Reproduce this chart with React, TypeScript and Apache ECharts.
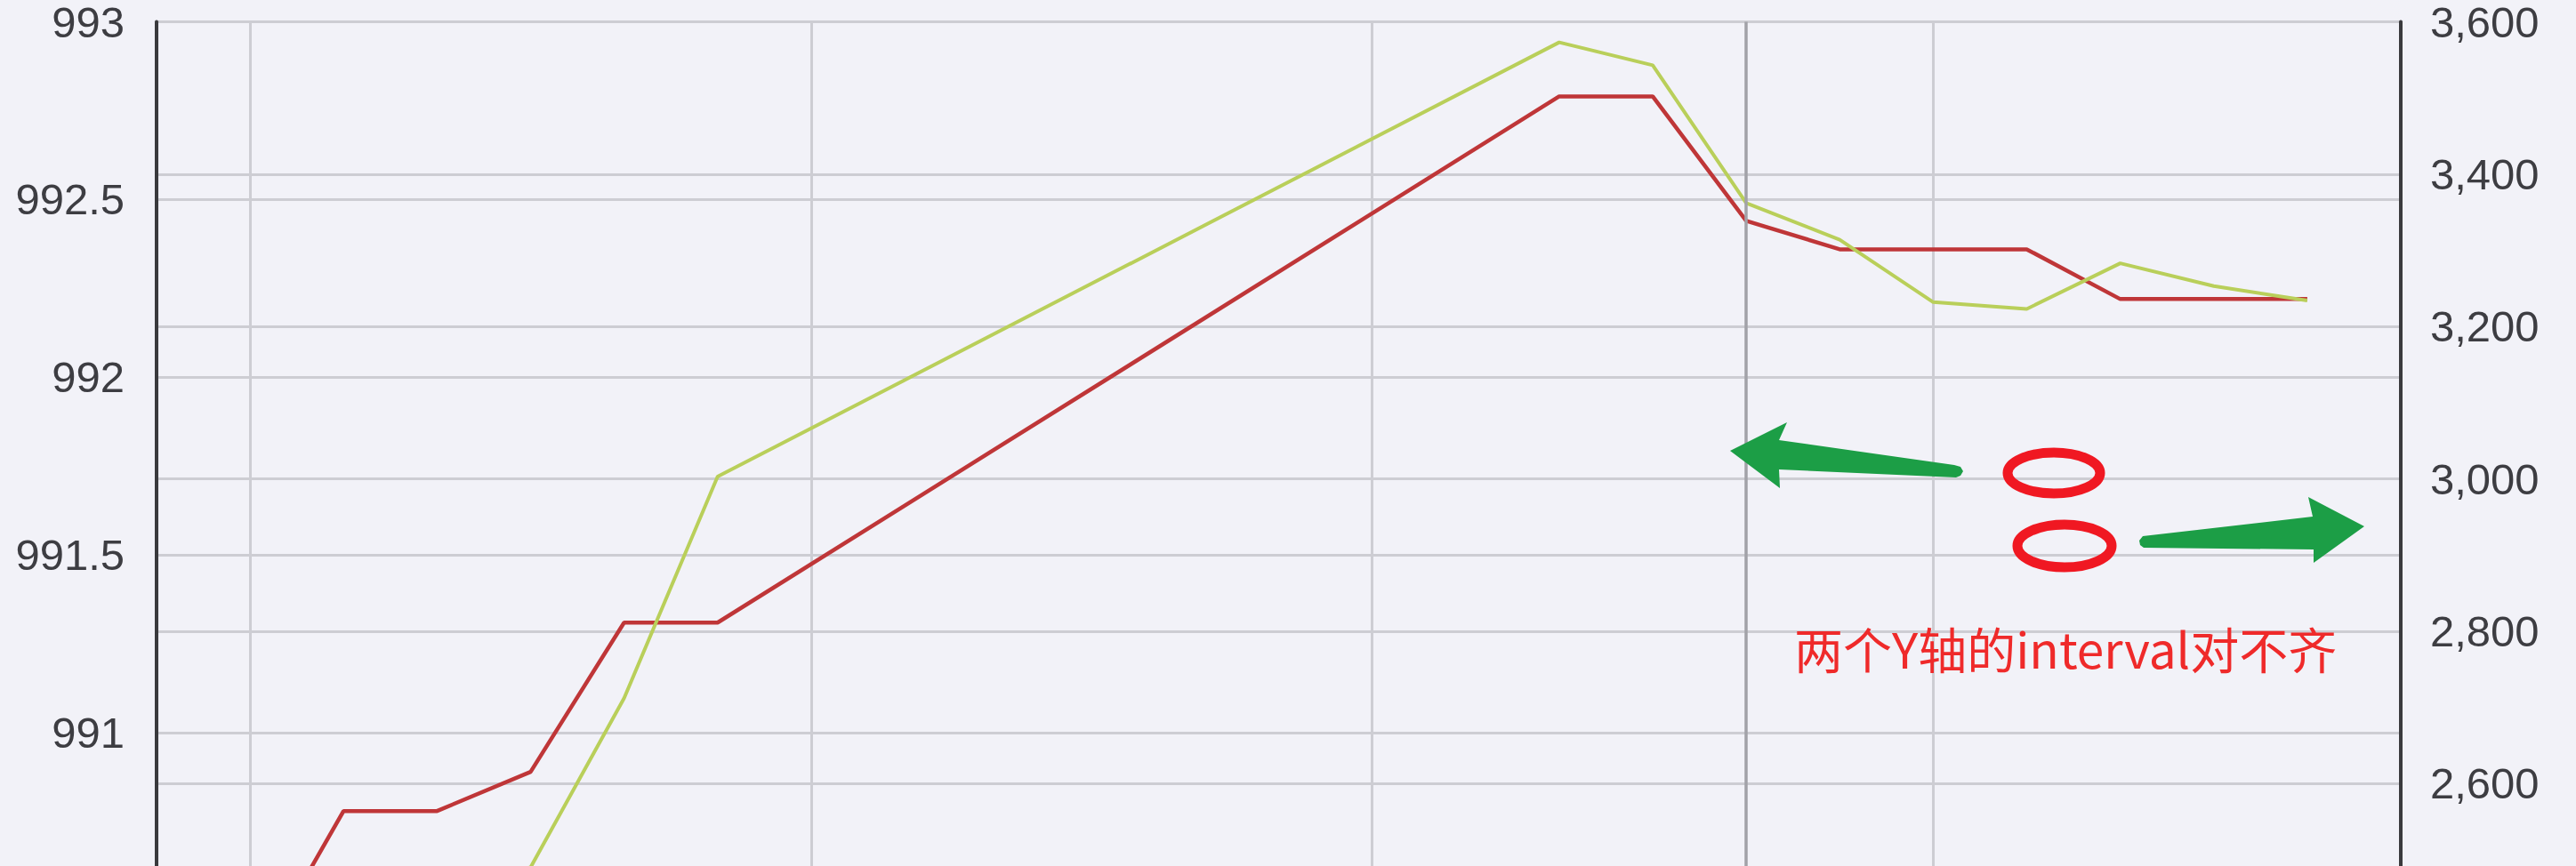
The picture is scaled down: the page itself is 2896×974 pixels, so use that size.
import React, { useEffect, useRef } from "react";
import * as echarts from "echarts";

// hourly categories (x labels are below the visible crop)
const categories: string[] = [
  "05-01 23:00", "05-02 00:00", "05-02 01:00", "05-02 02:00", "05-02 03:00",
  "05-02 04:00", "05-02 05:00", "05-02 06:00", "05-02 07:00", "05-02 08:00",
  "05-02 09:00", "05-02 10:00", "05-02 11:00", "05-02 12:00", "05-02 13:00",
  "05-02 14:00", "05-02 15:00", "05-02 16:00", "05-02 17:00", "05-02 18:00",
  "05-02 19:00", "05-02 20:00", "05-02 21:00", "05-02 22:00", "05-02 23:00",
];

// left axis series (red)
const redValues: (number | null)[] = [
  990.2, 990.32, 990.78, 990.78, 990.89, 991.31, 991.31,
  null, null, null, null, null, null, null, null,
  992.79, 992.79, 992.44, 992.36, 992.36, 992.36, 992.22, 992.22, 992.22,
];

// right axis series (green)
const greenValues: (number | null)[] = [
  2310, 2340, 2420, 2460, 2490, 2712, 3003,
  null, null, null, null, null, null, null, null,
  3573, 3543, 3362, 3314, 3232, 3223, 3283, 3253, 3234,
];

const leftMin = 990;
const leftMax = 993;
const leftInterval = 0.5;
const rightMin = 2200;
const rightMax = 3600;
const rightInterval = 200;
// lowest tick labels that are visible in the cropped view
const leftLowestShown = 991;
const rightLowestShown = 2600;
const pointerIndex = 17;
const noteText = "两个Y轴的interval对不齐";

export default function App() {
  const ref = useRef<HTMLDivElement>(null);

  useEffect(() => {
    if (!ref.current) return;
    const chart = echarts.init(ref.current, undefined, { renderer: "svg" });
    const bg = "#f2f2f8";
    const gridColor = "#cdcdd3";
    const axisColor = "#3a3a3d";
    const labelColor = "#3d3d42";
    const labelFont = "'Liberation Sans', Arial, sans-serif";

    chart.setOption({
      animation: false,
      backgroundColor: bg,
      grid: { left: 176, right: 197, top: 24, bottom: 76, containLabel: false },
      xAxis: {
        type: "category",
        boundaryGap: false,
        data: categories,
        axisLine: { show: true, lineStyle: { color: axisColor, width: 4 } },
        axisTick: { show: false },
        axisLabel: { show: false },
        splitLine: {
          show: true,
          interval: (i: number) => i % 6 === 1,
          lineStyle: { color: gridColor, width: 3 },
        },
      },
      yAxis: [
        {
          type: "value",
          position: "left",
          min: leftMin,
          max: leftMax,
          interval: leftInterval,
          axisLine: { show: true, lineStyle: { color: axisColor, width: 4 } },
          axisTick: { show: false },
          axisLabel: {
            fontSize: 49,
            lineHeight: 42,
            color: labelColor,
            fontFamily: labelFont,
            margin: 36,
            formatter: (v: number) => (v >= leftLowestShown ? String(v) : ""),
          },
          splitLine: { show: true, lineStyle: { color: gridColor, width: 3 } },
        },
        {
          type: "value",
          position: "right",
          min: rightMin,
          max: rightMax,
          interval: rightInterval,
          axisLine: { show: true, lineStyle: { color: axisColor, width: 4 } },
          axisTick: { show: false },
          axisLabel: {
            fontSize: 49,
            lineHeight: 42,
            color: labelColor,
            fontFamily: labelFont,
            margin: 33,
            formatter: (v: number) =>
              v >= rightLowestShown ? v.toLocaleString("en-US") : "",
          },
          splitLine: { show: true, lineStyle: { color: gridColor, width: 3 } },
        },
      ],
      series: [
        {
          type: "line",
          yAxisIndex: 0,
          data: redValues,
          connectNulls: true,
          showSymbol: false,
          symbol: "none",
          lineStyle: { color: "#bf3638", width: 4.5 },
          itemStyle: { color: "#bf3638" },
          z: 3,
          markLine: {
            silent: true,
            symbol: ["none", "none"],
            label: { show: false },
            lineStyle: { color: "#a2a2a8", width: 3.5, type: "solid" },
            data: [{ xAxis: categories[pointerIndex] }],
          },
        },
        {
          type: "line",
          yAxisIndex: 1,
          data: greenValues,
          connectNulls: true,
          showSymbol: false,
          symbol: "none",
          lineStyle: { color: "#b9cf5a", width: 4 },
          itemStyle: { color: "#b9cf5a" },
          z: 3,
        },
      ],
      graphic: [
        {
          type: "polygon",
          z: 100,
          shape: {
            points: [
              [1945, 507], [2009, 475], [2000, 495], [2197, 523],
              [2204, 525], [2207, 530], [2204, 535], [2199, 537],
              [2000, 528], [2001, 549],
            ],
          },
          style: { fill: "#1c9e46" },
        },
        {
          type: "polygon",
          z: 100,
          shape: {
            points: [
              [2409, 603], [2600, 581], [2595, 559], [2658, 592],
              [2601, 633], [2601, 618], [2410, 616], [2406, 613],
              [2405, 608],
            ],
          },
          style: { fill: "#1c9e46" },
        },
        {
          type: "ellipse",
          z: 100,
          shape: { cx: 2309, cy: 532, rx: 52, ry: 23 },
          style: { fill: "none", stroke: "#f01822", lineWidth: 11 },
        },
        {
          type: "ellipse",
          z: 100,
          shape: { cx: 2321, cy: 614, rx: 53, ry: 24 },
          style: { fill: "none", stroke: "#f01822", lineWidth: 11 },
        },
        {
          type: "text",
          z: 100,
          x: 2017,
          y: 728,
          style: {
            text: noteText,
            fill: "#ef2a2a",
            font: "55px 'Noto Sans CJK SC', sans-serif",
            textVerticalAlign: "middle",
            verticalAlign: "middle",
          },
        },
      ],
    });

    return () => chart.dispose();
  }, []);

  return (
    <div
      ref={ref}
      style={{
        position: "fixed",
        left: 0,
        top: 0,
        width: 2896,
        height: 1300,
        background: "#f2f2f8",
      }}
    />
  );
}
